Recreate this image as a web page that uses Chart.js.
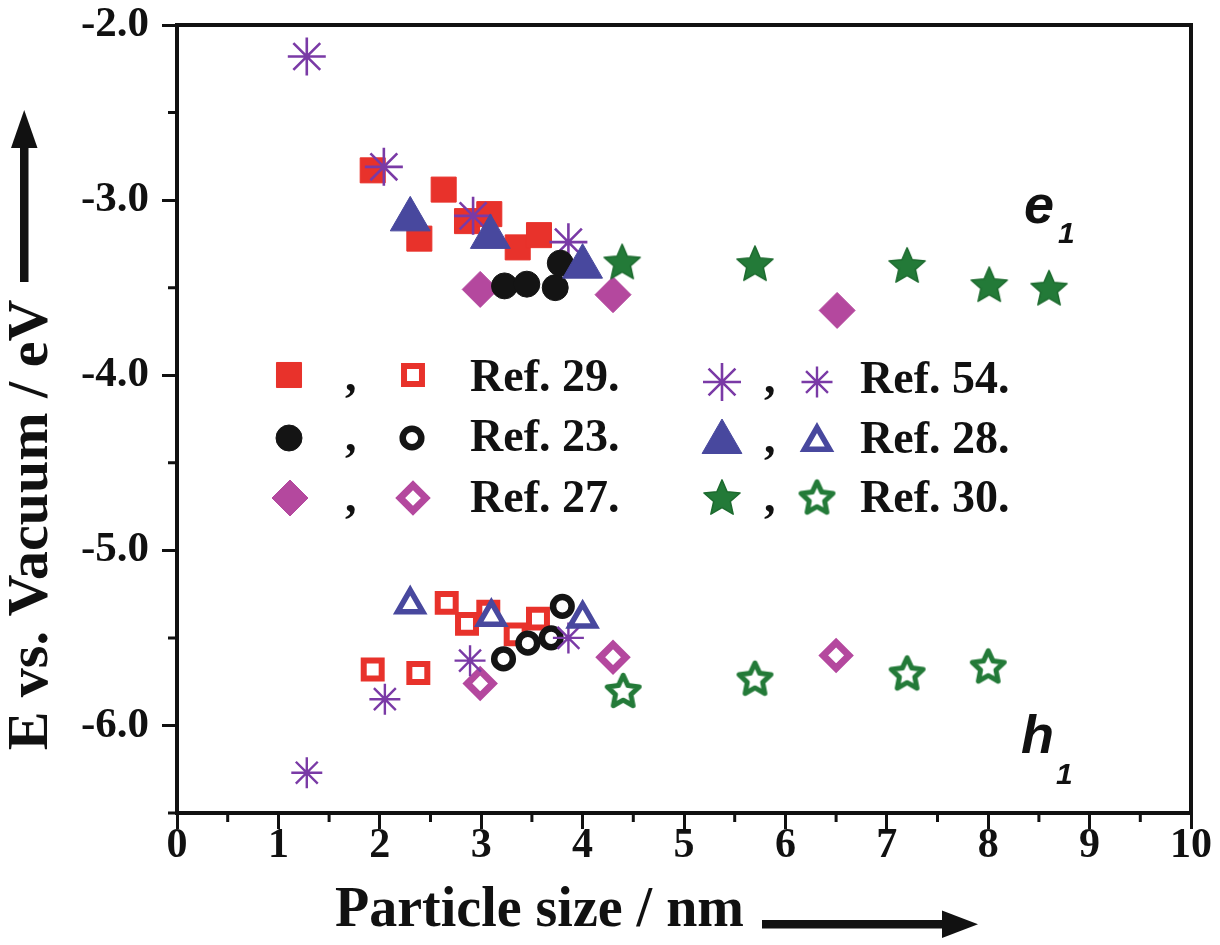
<!DOCTYPE html>
<html>
<head>
<meta charset="utf-8">
<script src="https://cdn.jsdelivr.net/npm/chart.js@4/dist/chart.umd.min.js"></script>
<style>
html,body{margin:0;padding:0;background:#fff;}
#wrap{width:1220px;height:945px;}
</style>
</head>
<body>
<div id="wrap"><canvas id="c" width="1220" height="945"></canvas></div>
<script>
// ---------------- DATA ----------------
const xTicks = [0,1,2,3,4,5,6,7,8,9,10];
const xMinorTicks = [0.5,1.5,2.5,3.5,4.5,5.5,6.5,7.5,8.5,9.5];
const yTicks = [-6,-5,-4,-3,-2];
const yMinorTicks = [-6.5,-5.5,-4.5,-3.5,-2.5];

// Ref. 29 (squares)
const ref29E1Size = [1.93, 2.39, 2.63, 2.86, 3.08, 3.36, 3.57];
const ref29E1 = [-2.83, -3.22, -2.94, -3.12, -3.08, -3.27, -3.20];
const ref29H1Size = [1.93, 2.38, 2.66, 2.86, 3.07, 3.34, 3.56];
const ref29H1 = [-5.68, -5.70, -5.30, -5.42, -5.35, -5.48, -5.39];
// Ref. 23 (circles)
const ref23E1Size = [3.23, 3.45, 3.73, 3.78];
const ref23E1 = [-3.49, -3.48, -3.50, -3.36];
const ref23H1Size = [3.22, 3.46, 3.69, 3.80];
const ref23H1 = [-5.62, -5.53, -5.50, -5.32];
// Ref. 27 (diamonds)
const ref27E1Size = [2.99, 4.30, 6.51];
const ref27E1 = [-3.51, -3.54, -3.63];
const ref27H1Size = [2.99, 4.30, 6.50];
const ref27H1 = [-5.76, -5.61, -5.60];
// Ref. 54 (asterisks)
const ref54E1Size = [1.28, 2.04, 2.92, 3.86];
const ref54E1 = [-2.18, -2.81, -3.09, -3.24];
const ref54H1Size = [1.28, 2.05, 2.89, 3.86];
const ref54H1 = [-6.27, -5.85, -5.63, -5.50];
// Ref. 28 (triangles)
const ref28E1Size = [2.30, 3.09, 4.00];
const ref28E1 = [-3.11, -3.21, -3.38];
const ref28H1Size = [2.30, 3.10, 4.00];
const ref28H1 = [-5.31, -5.38, -5.39];
// Ref. 30 (stars)
const ref30E1Size = [4.39, 5.70, 7.20, 8.01, 8.60];
const ref30E1 = [-3.35, -3.36, -3.37, -3.48, -3.50];
const ref30H1Size = [4.40, 5.70, 7.20, 8.00];
const ref30H1 = [-5.80, -5.73, -5.70, -5.66];

const legendLabels = ['Ref. 29.', 'Ref. 23.', 'Ref. 27.', 'Ref. 54.', 'Ref. 28.', 'Ref. 30.'];

// ---------------- STYLES ----------------
const RED = '#e8322b', BLACK = '#141414', MAG = '#b4489e', PURP = '#7a3aa6', BLUE = '#48489e', GREEN = '#237a38';
const SERIF = "'Liberation Serif', 'Times New Roman', serif";
const SANS = "'Liberation Sans', Arial, sans-serif";

function starCanvas(R, ratio, fill, stroke, lw, filled) {
  const size = Math.ceil(2 * R + lw + 6);
  const c = document.createElement('canvas');
  c.width = size; c.height = size;
  const g = c.getContext('2d');
  const cx = size / 2, cy = size / 2 + 0.0955 * R;
  g.beginPath();
  for (let i = 0; i < 10; i++) {
    const a = -Math.PI / 2 + i * Math.PI / 5;
    const r = (i % 2) ? R * ratio : R;
    const px = cx + r * Math.cos(a), py = cy + r * Math.sin(a);
    if (i === 0) g.moveTo(px, py); else g.lineTo(px, py);
  }
  g.closePath();
  g.lineJoin = 'round';
  g.lineWidth = lw;
  g.fillStyle = filled ? fill : '#ffffff';
  g.fill();
  g.strokeStyle = stroke;
  g.stroke();
  return c;
}
const starFilled = starCanvas(19, 0.46, GREEN, '#1c6a2e', 1.5, true);
const starOpen = starCanvas(16.8, 0.48, '#fff', GREEN, 5, false);

const M = {
  sqF: {pointStyle: 'rect', radius: 17.7, borderWidth: 1, bg: RED, bc: RED},
  sqO: {pointStyle: 'rect', radius: 12.7, borderWidth: 6, bg: '#fff', bc: RED},
  ciF: {pointStyle: 'circle', radius: 13, borderWidth: 1, bg: BLACK, bc: BLACK},
  ciO: {pointStyle: 'circle', radius: 9.3, borderWidth: 6.5, bg: '#fff', bc: BLACK},
  diF: {pointStyle: 'rectRot', radius: 18, borderWidth: 1, bg: MAG, bc: MAG},
  diO: {pointStyle: 'rectRot', radius: 12.8, borderWidth: 7, bg: '#fff', bc: MAG},
  asL: {pointStyle: 'star', radius: 19, borderWidth: 2.6, bg: PURP, bc: PURP},
  asS: {pointStyle: 'star', radius: 15.5, borderWidth: 2.4, bg: PURP, bc: PURP},
  trF: {pointStyle: 'triangle', radius: 23, borderWidth: 1, bg: BLUE, bc: BLUE},
  trO: {pointStyle: 'triangle', radius: 14.5, borderWidth: 5.5, bg: '#fff', bc: BLUE},
  stF: {pointStyle: starFilled, radius: 19, borderWidth: 0, bg: GREEN, bc: GREEN},
  stO: {pointStyle: starOpen, radius: 19, borderWidth: 0, bg: '#fff', bc: GREEN}
};

function ds(label, xs, ys, m, order) {
  return {
    label: label,
    data: xs.map((x, i) => ({x: x, y: ys[i]})),
    pointStyle: m.pointStyle,
    pointRadius: m.radius,
    pointHoverRadius: m.radius,
    pointBorderWidth: m.borderWidth,
    pointBackgroundColor: m.bg,
    pointBorderColor: m.bc,
    backgroundColor: m.bg,
    borderColor: m.bc,
    showLine: false,
    order: order
  };
}

const datasets = [
  ds('Ref. 29 e1', ref29E1Size, ref29E1, M.sqF, 8),
  ds('Ref. 29 h1', ref29H1Size, ref29H1, M.sqO, 8),
  ds('Ref. 27 e1', ref27E1Size, ref27E1, M.diF, 7),
  ds('Ref. 27 h1', ref27H1Size, ref27H1, M.diO, 7),
  ds('Ref. 54 e1', ref54E1Size, ref54E1, M.asL, 6),
  ds('Ref. 54 h1', ref54H1Size, ref54H1, M.asS, 4),
  ds('Ref. 23 e1', ref23E1Size, ref23E1, M.ciF, 5),
  ds('Ref. 23 h1', ref23H1Size, ref23H1, M.ciO, 5),
  ds('Ref. 28 e1', ref28E1Size, ref28E1, M.trF, 3),
  ds('Ref. 28 h1', ref28H1Size, ref28H1, M.trO, 3),
  ds('Ref. 30 e1', ref30E1Size, ref30E1, M.stF, 2),
  ds('Ref. 30 h1', ref30H1Size, ref30H1, M.stO, 2)
];

function drawMarker(ctx, m, x, y) {
  ctx.save();
  ctx.fillStyle = m.bg;
  ctx.strokeStyle = m.bc;
  ctx.lineWidth = m.borderWidth;
  if (Chart.helpers && Chart.helpers.drawPoint) {
    Chart.helpers.drawPoint(ctx, {pointStyle: m.pointStyle, radius: m.radius, borderWidth: m.borderWidth, rotation: 0}, x, y);
  }
  ctx.restore();
}

const decorPlugin = {
  id: 'decor',
  afterDraw(chart) {
    const ctx = chart.ctx;
    const a = chart.chartArea;
    const xs = chart.scales.x, ys = chart.scales.y;
    ctx.save();
    ctx.strokeStyle = '#111';
    // top & right frame
    ctx.lineWidth = 4;
    ctx.beginPath();
    ctx.moveTo(a.left - 2, a.top);
    ctx.lineTo(a.right, a.top);
    ctx.lineTo(a.right, a.bottom + 2);
    ctx.stroke();
    // minor ticks
    ctx.lineWidth = 3;
    ctx.beginPath();
    yMinorTicks.forEach(v => {
      const py = ys.getPixelForValue(v);
      ctx.moveTo(a.left - 9, py); ctx.lineTo(a.left, py);
    });
    xMinorTicks.forEach(v => {
      const px = xs.getPixelForValue(v);
      ctx.moveTo(px, a.bottom); ctx.lineTo(px, a.bottom + 9);
    });
    ctx.stroke();

    // legend
    const rows = [
      [M.sqF, M.sqO, legendLabels[0], 289, 413, 345, 470, 375, 391],
      [M.ciF, M.ciO, legendLabels[1], 289, 412, 345, 470, 438, 451],
      [M.diF, M.diO, legendLabels[2], 290, 413, 345, 470, 498, 512],
      [M.asL, M.asS, legendLabels[3], 722, 817, 764, 860, 382, 393],
      [M.trF, M.trO, legendLabels[4], 722, 817, 764, 860, 442, 453],
      [M.stF, M.stO, legendLabels[5], 722, 817, 764, 860, 497, 512]
    ];
    rows.forEach(r => {
      drawMarker(ctx, r[0], r[3], r[7]);
      drawMarker(ctx, r[1], r[4], r[7]);
      ctx.fillStyle = '#111';
      ctx.font = 'bold 46px ' + SERIF;
      ctx.textAlign = 'left';
      ctx.textBaseline = 'alphabetic';
      ctx.fillText(',', r[5], r[8]);
      ctx.fillText(r[2], r[6], r[8]);
    });

    // e1 / h1 labels
    ctx.fillStyle = '#111';
    ctx.font = 'italic bold 54px ' + SANS;
    ctx.fillText('e', 1024, 223);
    ctx.fillText('h', 1021, 753);
    ctx.font = 'italic bold 30px ' + SANS;
    ctx.fillText('1', 1058, 243);
    ctx.fillText('1', 1056, 784);

    // axis titles
    ctx.font = 'bold 56px ' + SERIF;
    ctx.textAlign = 'left';
    ctx.fillText('Particle size / nm', 335, 926);
    ctx.save();
    ctx.translate(47, 525);
    ctx.rotate(-Math.PI / 2);
    ctx.font = 'bold 58px ' + SERIF;
    ctx.textAlign = 'center';
    ctx.fillText('E vs. Vacuum / eV', 0, 0);
    ctx.restore();

    // arrows
    ctx.fillStyle = '#111';
    ctx.fillRect(20, 144, 8.5, 138);
    ctx.beginPath();
    ctx.moveTo(24.2, 110); ctx.lineTo(37.5, 148); ctx.lineTo(11, 148); ctx.closePath(); ctx.fill();
    ctx.fillRect(762, 920, 184, 8.5);
    ctx.beginPath();
    ctx.moveTo(978, 924.2); ctx.lineTo(942, 910.5); ctx.lineTo(942, 938); ctx.closePath(); ctx.fill();
    ctx.restore();
  }
};

new Chart(document.getElementById('c'), {
  type: 'scatter',
  data: {datasets: datasets},
  options: {
    responsive: false,
    animation: false,
    devicePixelRatio: 1,
    layout: {padding: {top: 25, right: 29, left: 0, bottom: 0}},
    plugins: {legend: {display: false}, tooltip: {enabled: false}},
    events: [],
    scales: {
      x: {
        type: 'linear', position: 'bottom', min: 0, max: 10,
        afterBuildTicks: s => { s.ticks = xTicks.map(v => ({value: v})); },
        afterFit: s => { s.height = 132; s.paddingLeft = 0; s.paddingRight = 0; },
        grid: {drawOnChartArea: false, drawTicks: true, tickLength: 16, tickWidth: 3, tickColor: '#111'},
        border: {display: true, width: 4, color: '#111'},
        ticks: {font: {family: SERIF, weight: 'bold', size: 42, lineHeight: 1}, color: '#111', padding: -4, maxRotation: 0, autoSkip: false,
          callback: v => String(v)}
      },
      y: {
        type: 'linear', position: 'left', min: -6.5, max: -2,
        afterBuildTicks: s => { s.ticks = yTicks.map(v => ({value: v})); },
        afterFit: s => { s.width = 177; s.paddingTop = 0; s.paddingBottom = 0; },
        grid: {drawOnChartArea: false, drawTicks: true, tickLength: 15, tickWidth: 3, tickColor: '#111'},
        border: {display: true, width: 4, color: '#111'},
        ticks: {font: {family: SERIF, weight: 'bold', size: 43, lineHeight: 1}, color: '#111', padding: 13, autoSkip: false,
          callback: v => Number(v).toFixed(1)}
      }
    }
  },
  plugins: [decorPlugin]
});
</script>
</body>
</html>
